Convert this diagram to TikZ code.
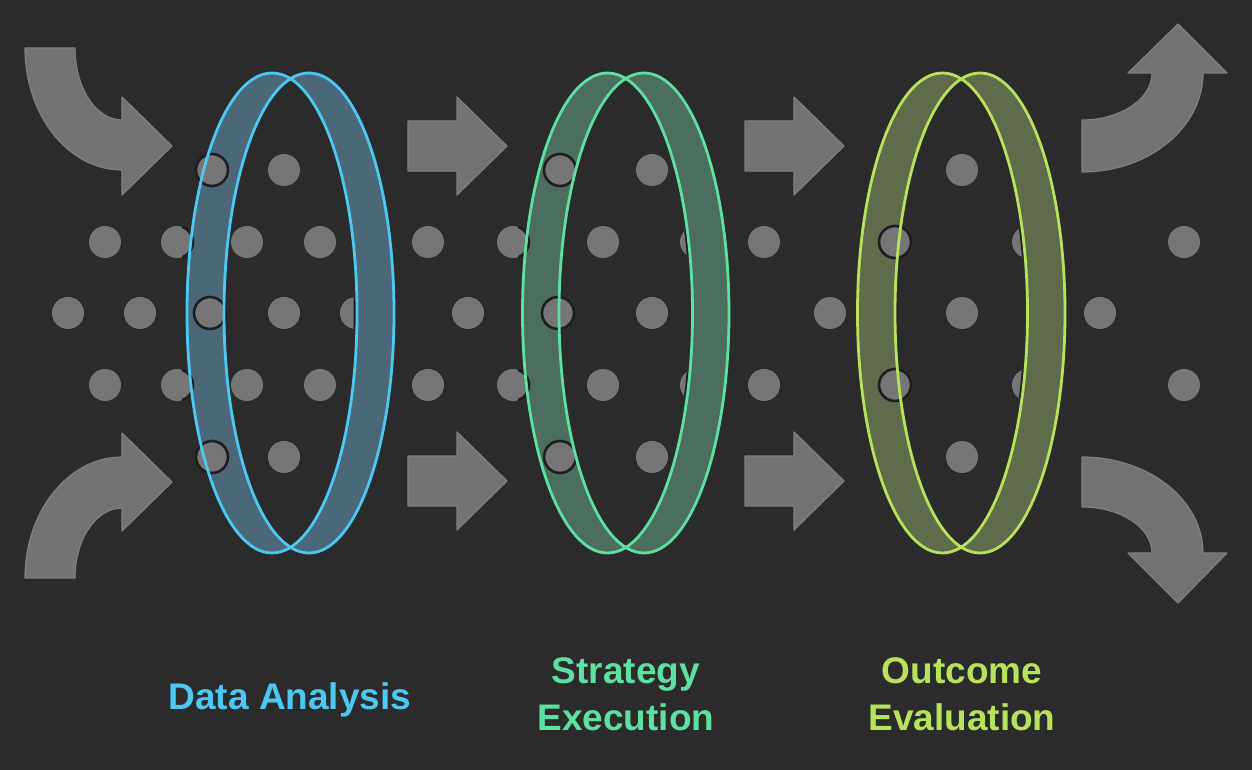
\documentclass[tikz,border=0pt]{standalone}
\usepackage{fontspec}
\setmainfont{Liberation Sans}

\definecolor{bgc}{HTML}{2B2B2B}
\definecolor{dotc}{HTML}{767676}
\definecolor{arrc}{HTML}{737373}
\definecolor{arredge}{HTML}{808080}
\definecolor{rimdark}{HTML}{1E1E1E}
\definecolor{cyanc}{HTML}{4CC8F2}
\definecolor{mintc}{HTML}{5EE0A2}
\definecolor{limec}{HTML}{B9E25C}
\definecolor{cyanband}{HTML}{4A6878}
\definecolor{mintband}{HTML}{4C6E5F}
\definecolor{limeband}{HTML}{5F6B4B}

\begin{document}
\begin{tikzpicture}[x=1pt, y=-1pt,
    greydot/.style={fill=dotc},
    rim/.style={draw=rimdark, line width=2.6pt},
    blockarr/.style={fill=arrc, draw=arredge, line width=1.2pt, line join=round},
    band/.style={even odd rule, fill=#1},
    rimline/.style={draw=#1, line width=2.8pt},
    lbl/.style={font=\fontsize{37}{47}\selectfont\bfseries, align=center, anchor=north, inner sep=0pt, text=#1},
    fwd/.pic={\path[blockarr] (-49,-25) -- (0,-25) -- (0,-49) -- (50,0) -- (0,49) -- (0,25) -- (-49,25) -- cycle;}
]
    \useasboundingbox (0,0) rectangle (1252,770);
    \fill[bgc] (0,0) rectangle (1252,770);

    % incoming and outgoing arrows
    \path[blockarr] (75,48) -- (25,48) arc[start angle=180, end angle=90, x radius=97, y radius=122]
        -- (122,195) -- (172,146) -- (122,97) -- (122,120) arc[start angle=90, end angle=180, x radius=47, y radius=72] -- cycle;
    \path[blockarr] (75,578) -- (25,578) arc[start angle=180, end angle=270, x radius=97, y radius=121]
        -- (122,433) -- (172,482) -- (122,531) -- (122,508) arc[start angle=270, end angle=180, x radius=47, y radius=70] -- cycle;
    \path[blockarr] (1082,120) -- (1082,172) arc[start angle=90, end angle=0, x radius=121, y radius=99]
        -- (1227,73) -- (1178,24) -- (1128,73) -- (1152,73) arc[start angle=0, end angle=90, x radius=70, y radius=47] -- cycle;
    \path[blockarr] (1082,507) -- (1082,457) arc[start angle=270, end angle=360, x radius=121, y radius=96]
        -- (1227,553) -- (1178,603) -- (1128,553) -- (1152,553) arc[start angle=360, end angle=270, x radius=70, y radius=46] -- cycle;

    \pic at (457,146) {fwd};
    \pic at (457,481) {fwd};
    \pic at (794,146) {fwd};
    \pic at (794,481) {fwd};

    % free dots
    \foreach \x/\y in {284/170, 652/170, 962/170, 284/457, 652/457, 962/457,
        105/242, 247/242, 320/242, 428/242, 603/242, 764/242, 1184/242,
        105/385, 247/385, 320/385, 428/385, 603/385, 764/385, 1184/385,
        68/313, 140/313, 284/313, 468/313, 652/313, 830/313, 962/313, 1100/313}
        \fill[greydot] (\x,\y) circle[radius=16];

    % rings
    \foreach \lc/\rc/\col in {272/309/cyan, 607.5/644/mint, 942.5/980/lime}
        \fill[band=\col band] (\lc,313) ellipse[x radius=85, y radius=240] (\rc,313) ellipse[x radius=85, y radius=240];

    % dots half hidden behind the rings
    \foreach \lc/\x/\y in {272/356/313, 607.5/696/242, 607.5/696/385, 942.5/1028/242, 942.5/1028/385} {
        \begin{scope}
            \clip (\lc,313) ellipse[x radius=85, y radius=240];
            \fill[greydot] (\x,\y) circle[radius=16];
        \end{scope}
        \begin{scope}
            \clip (\x,\y) circle[radius=16];
            \draw[rim] (\lc,313) ellipse[x radius=83, y radius=240];
        \end{scope}
    }

    % dots in front of the rings
    \foreach \x/\y in {212/170, 210/313, 212/457, 560/170, 558/313, 560/457, 895/242, 895/385}
        \filldraw[greydot, rim] (\x,\y) circle[radius=16];
    \foreach \x/\y in {177/242, 177/385, 513/242, 513/385} {
        \fill[greydot] (\x,\y) circle[radius=16];
        \draw[rim] (\x,\y) ++(-70:16) arc[start angle=-70, end angle=70, radius=16];
    }

    \foreach \lc/\rc/\col in {272/309/cyan, 607.5/644/mint, 942.5/980/lime}
        \draw[rimline=\col c] (\lc,313) ellipse[x radius=85, y radius=240] (\rc,313) ellipse[x radius=85, y radius=240];

    \node[lbl=cyanc] (lab1) at (290,682) {Data Analysis};
    \node[lbl=mintc] (lab2) at (626,657) {Strategy\\Execution};
    \node[lbl=limec] (lab3) at (962,657) {Outcome\\Evaluation};
\end{tikzpicture}
\end{document}
